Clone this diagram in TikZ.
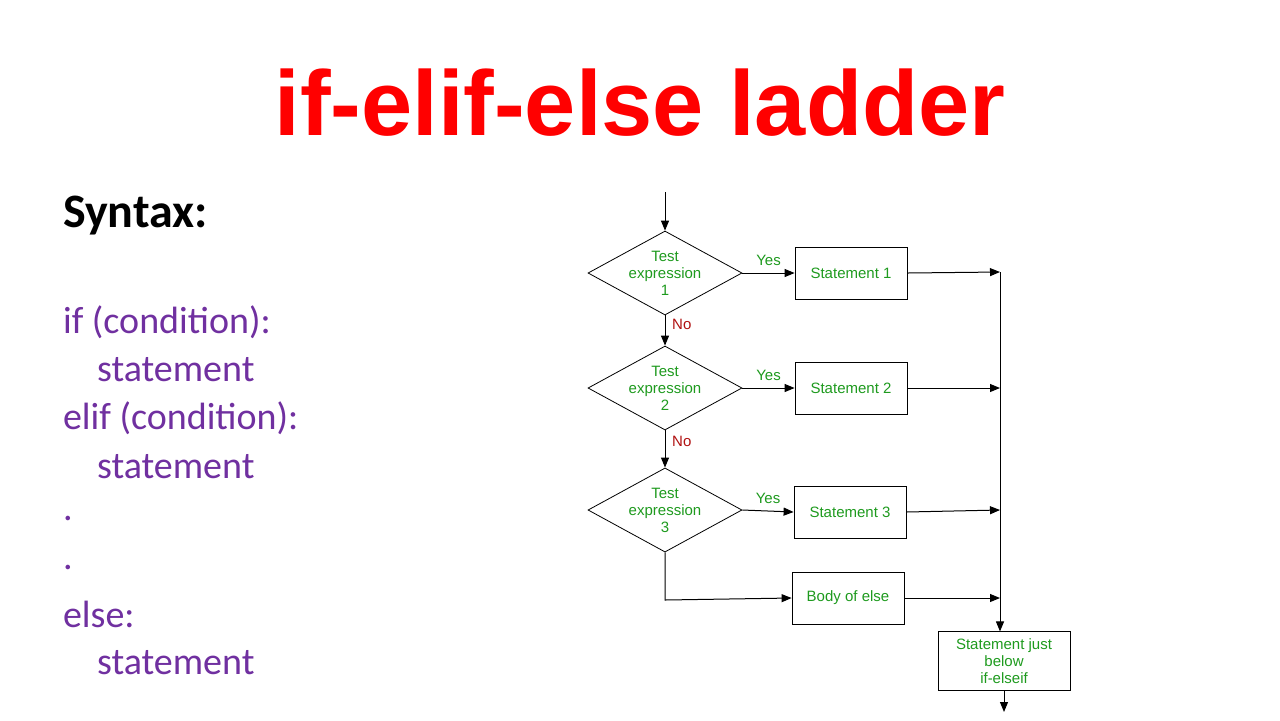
\documentclass[tikz,border=0pt]{standalone}
\usepackage{fontspec}
\setmainfont{Liberation Sans}
\newfontfamily\calfont{Carlito}
\usetikzlibrary{shapes.geometric,arrows.meta}
\definecolor{gr}{HTML}{1E9A1E}
\definecolor{pu}{HTML}{7030A0}
\definecolor{nored}{HTML}{B01010}
\begin{document}
\begin{tikzpicture}[x=0.5pt,y=-0.5pt,
 dia/.style={draw,diamond,aspect=1.83,minimum width=77pt,minimum height=42pt,inner sep=0pt,align=center,font=\fontsize{7.5}{8.5}\selectfont,text=gr},
 box/.style={draw,rectangle,minimum width=56pt,minimum height=26pt,align=center,font=\fontsize{7.5}{8.5}\selectfont,text=gr},
 ar/.style={-{Triangle[length=5pt,width=4pt]},line width=0.5pt},
 lab/.style={font=\fontsize{7.5}{8.5}\selectfont,text=gr},
 nol/.style={font=\fontsize{7.5}{8.5}\selectfont,text=nored},
 code/.style={font=\calfont\fontsize{19}{21}\selectfont,text=pu,anchor=west}]
\useasboundingbox (0,0) rectangle (1280,720);
\node (title) at (640,103) {\fontsize{46}{48}\selectfont\bfseries\color{red}if-elif-else ladder};
\node[anchor=west,font=\calfont\bfseries\fontsize{24}{26}\selectfont] (syn) at (56,216) {Syntax:};
\node[code] (c1) at (56,322) {if (condition):};
\node[code] (c2) at (90,370) {statement};
\node[code] (c3) at (56,418) {elif (condition):};
\node[code] (c4) at (90,467) {statement};
\node[code] (c5) at (56,518) {.};
\node[code] (c6) at (56,567) {.};
\node[code] (c7) at (56,614) {else:};
\node[code] (c8) at (90,663) {statement};
\coordinate (top) at (665,192);
\node[dia] (d1) at (665,273) {Test\\expression\\1};
\node[dia] (d2) at (665,388) {Test\\expression\\2};
\node[dia] (d3) at (665,510) {Test\\expression\\3};
\node[box] (s1) at (851,273) {Statement 1};
\node[box] (s2) at (851,388) {Statement 2};
\node[box] (s3) at (850,512) {Statement 3};
\node[box] (s4) at (848,598) {Body of else};
\node[box,minimum width=66pt] (fin) at (1004,661) {Statement just\\below\\if-elseif};
\coordinate (j1) at (1000,272);
\coordinate (j2) at (1000,388);
\coordinate (j3) at (1000,510);
\coordinate (j4) at (1000,598);
\coordinate (bot) at (1004,712);
\coordinate (e1) at (665,600);
\draw[ar] (top) -- (d1.north);
\draw[ar] (d1.east) -- node[lab,above]{Yes} (s1.west);
\draw[ar] (d2.east) -- node[lab,above]{Yes} (s2.west);
\draw[ar] (d3.east) -- node[lab,above]{Yes} (s3.west);
\draw[ar] (d1.south) -- node[nol,right,pos=0.3]{No} (d2.north);
\draw[ar] (d2.south) -- node[nol,right,pos=0.3]{No} (d3.north);
\draw[ar] (d3.south) -- (e1) -- (s4.west);
\draw[ar] (s1.east) -- (j1);
\draw[ar] (s2.east) -- (j2);
\draw[ar] (s3.east) -- (j3);
\draw[ar] (s4.east) -- (j4);
\draw[ar] (j1) -- (fin.north -| j1);
\draw[ar] (fin.south) -- (bot);
\end{tikzpicture}
\end{document}
